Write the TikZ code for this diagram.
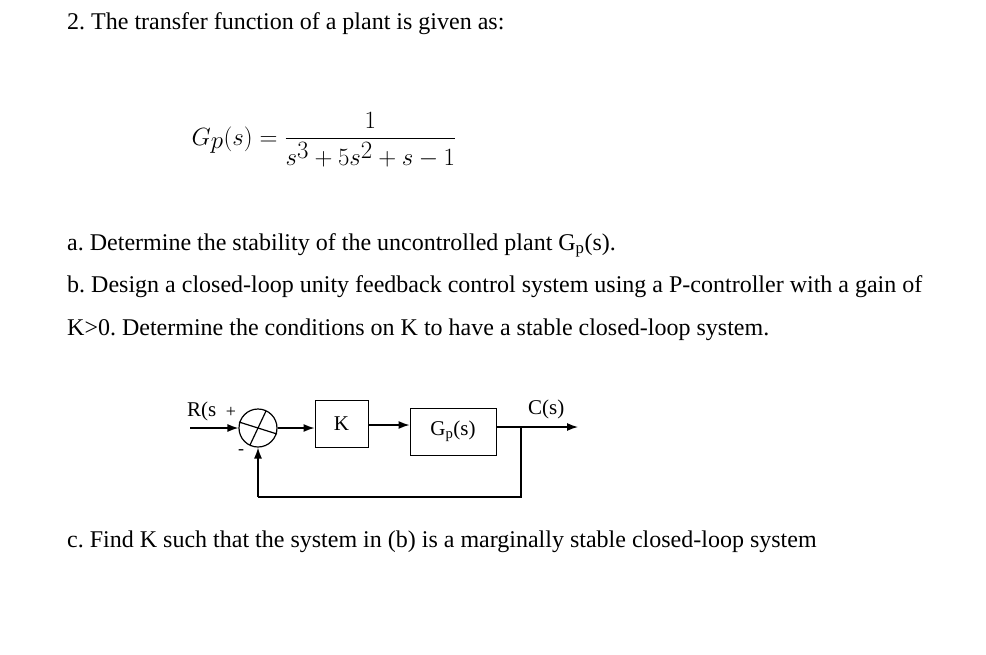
\documentclass[tikz,border=0pt]{standalone}
\usepackage{amsmath}
\usepackage{fontspec}
\setmainfont{Liberation Serif}
\usetikzlibrary{arrows.meta,calc}
\frenchspacing
\begin{document}
\begin{tikzpicture}[x=1pt,y=-1pt,
  txt/.style={anchor=base west,inner sep=0pt,font=\fontsize{24}{28}\selectfont},
  blk/.style={draw,line width=1pt,inner sep=0pt},
  sig/.style={line width=1.3pt,-{Latex[length=11pt,width=8pt]}},
  wire/.style={line width=1.3pt}]
\useasboundingbox (0,0) rectangle (986,654);
\node[txt] (t1) at (67,29) {2. The transfer function of a plant is given as:};
\node[anchor=center,inner sep=0pt,font=\fontsize{40}{48}\selectfont] (eq) at (324,140)
  {$G_p(s)=\dfrac{1}{s^3+5s^2+s-1}$};
\node[txt] (ta) at (67,250) {a. Determine the stability of the uncontrolled plant G\textsubscript{p}(s).};
\node[txt] (tb) at (67,292) {b. Design a closed-loop unity feedback control system using a P-controller with a gain of};
\node[txt] (tb2) at (67,335) {K>0. Determine the conditions on K to have a stable closed-loop system.};
\node[txt] (tc) at (67,547) {c. Find K such that the system in (b) is a marginally stable closed-loop system};
% block diagram
\node[draw,circle,line width=1.2pt,minimum size=38pt,inner sep=0pt] (sum) at (258,428) {};
\draw[line width=1.2pt] ($(sum.center)+(-19,-6)$) -- ($(sum.center)+(19,6)$);
\draw[line width=1.2pt] ($(sum.center)+(-8,17)$) -- ($(sum.center)+(8,-17)$);
\node[blk,minimum width=53pt,minimum height=47pt,font=\fontsize{21}{24}\selectfont] (K) at (341.5,423.5) {K};
\node[blk,minimum width=86pt,minimum height=47pt,font=\fontsize{21}{24}\selectfont] (G) at (453,431.5) {G\textsubscript{p}(s)};
\coordinate (in) at (190,428);
\coordinate (br) at (521,427);
\coordinate (out) at (578,427);
\coordinate (bl) at (521,497);
\coordinate (bb) at (258,497);
\draw[sig] (in) -- (sum.west);
\draw[sig] (sum.east) -- (K.west |- sum.east);
\draw[sig] (K.east |- 0,425) -- (G.west |- 0,425);
\draw[wire] (G.east |- br) -- (br);
\draw[sig] (br) -- (out);
\draw[wire] (br) -- (bl) -- (bb);
\draw[sig] (bb) -- (sum.south);
\node[anchor=base west,inner sep=0pt,font=\fontsize{21}{24}\selectfont] (R) at (187,416) {R(s};
\node[anchor=base west,inner sep=0pt,font=\fontsize{21}{24}\selectfont] (C) at (528,414) {C(s)};
\node[inner sep=0pt,font=\fontsize{18}{20}\selectfont] (plus) at (231,412) {+};
\node[inner sep=0pt,font=\fontsize{18}{20}\selectfont] (minus) at (241,452) {-};
\end{tikzpicture}
\end{document}
